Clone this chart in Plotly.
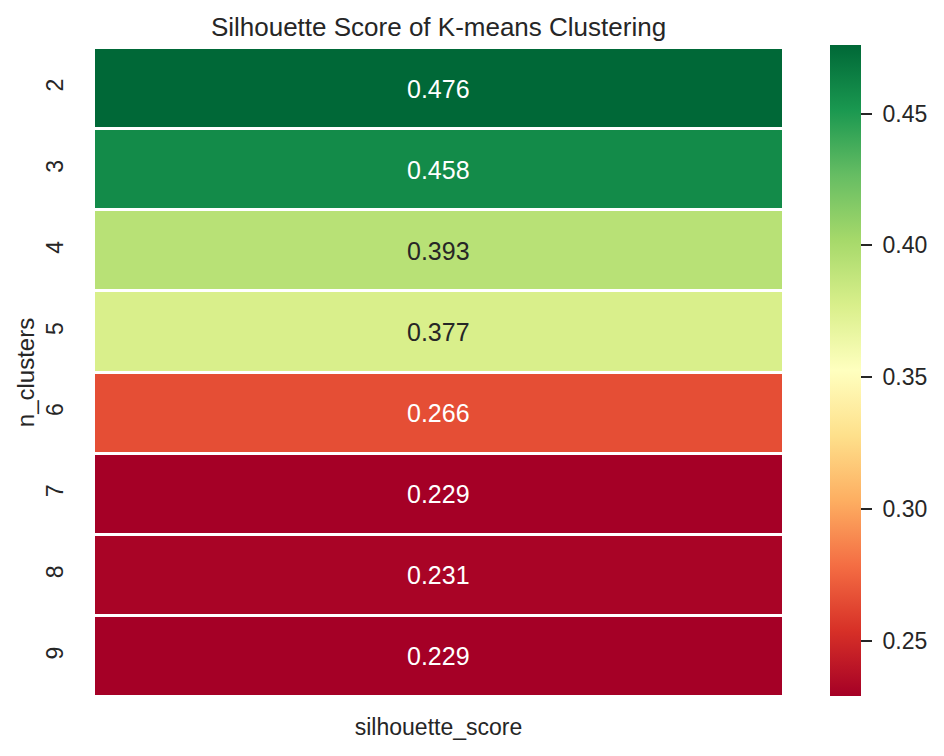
import plotly.graph_objects as go

n_clusters = ["2", "3", "4", "5", "6", "7", "8", "9"]
scores = [0.476, 0.458, 0.393, 0.377, 0.266, 0.229, 0.231, 0.229]
column = "silhouette_score"
cbar_ticks = [0.25, 0.30, 0.35, 0.40, 0.45]

rdylgn = ['rgb(165,0,38)', 'rgb(215,48,39)', 'rgb(244,109,67)', 'rgb(253,174,97)',
          'rgb(254,224,139)', 'rgb(255,255,191)', 'rgb(217,239,139)', 'rgb(166,217,106)',
          'rgb(102,189,99)', 'rgb(26,152,80)', 'rgb(0,104,55)']
colorscale = [[i / (len(rdylgn) - 1), c] for i, c in enumerate(rdylgn)]

vmin, vmax = min(scores), max(scores)


def parse(c):
    return [int(v) for v in c[4:-1].split(",")]


def color_at(v):
    t = (v - vmin) / (vmax - vmin)
    t = max(0, min(1, t))
    pos = t * (len(rdylgn) - 1)
    i = min(int(pos), len(rdylgn) - 2)
    f = pos - i
    a, b = parse(rdylgn[i]), parse(rdylgn[i + 1])
    return [a[k] + (b[k] - a[k]) * f for k in range(3)]


def lum(rgb):
    out = []
    for c in rgb:
        c = c / 255
        out.append(c / 12.92 if c <= 0.03928 else ((c + 0.055) / 1.055) ** 2.4)
    return 0.2126 * out[0] + 0.7152 * out[1] + 0.0722 * out[2]


text_dark = "#262626"
font_family = "Liberation Sans, Arial, sans-serif"

fig = go.Figure(go.Heatmap(
    z=[[s] for s in scores],
    x=[column],
    y=n_clusters,
    colorscale=colorscale,
    zmin=vmin, zmax=vmax,
    ygap=3, xgap=0,
    hoverinfo="skip",
    colorbar=dict(
        thickness=31, lenmode="pixels", len=651,
        x=(830 - 95) / 687, xanchor="left", xpad=0,
        y=(697 - 370.5) / 649, yanchor="middle", ypad=0,
        outlinewidth=0,
        tickvals=cbar_ticks, ticktext=[f" {t:.2f}" for t in cbar_ticks],
        ticks="outside", ticklen=11, tickwidth=2, tickcolor=text_dark,
        tickfont=dict(size=23, color=text_dark, family=font_family),
    ),
))

# category axes: annotation positions are category indices
for idx, s in enumerate(scores):
    col = text_dark if lum(color_at(s)) > 0.408 else "white"
    fig.add_annotation(x=0, y=idx, text=f"{s:.3f}", showarrow=False,
                       font=dict(size=25, color=col, family=font_family))

fig.update_layout(
    width=944, height=756,
    margin=dict(l=95, r=162, t=48, b=59),
    paper_bgcolor="white", plot_bgcolor="white",
    font=dict(family=font_family, color=text_dark),
    title=dict(text="Silhouette Score of K-means Clustering", x=(438.5 / 944), xanchor="center",
               y=0.964, yanchor="middle", font=dict(size=26, color=text_dark)),
    xaxis=dict(type="category", showgrid=False, zeroline=False, ticks="",
               tickfont=dict(size=23), ticklabelstandoff=14, automargin=False),
    yaxis=dict(type="category", autorange="reversed", showgrid=False, zeroline=False,
               ticks="", tickangle=-90, tickfont=dict(size=23), ticklabelstandoff=26,
               automargin=False,
               title=dict(text="n_clusters", font=dict(size=24), standoff=1)),
)

fig.write_html("out.html", config={"displayModeBar": False},
               post_script="document.body.style.margin='0';")
